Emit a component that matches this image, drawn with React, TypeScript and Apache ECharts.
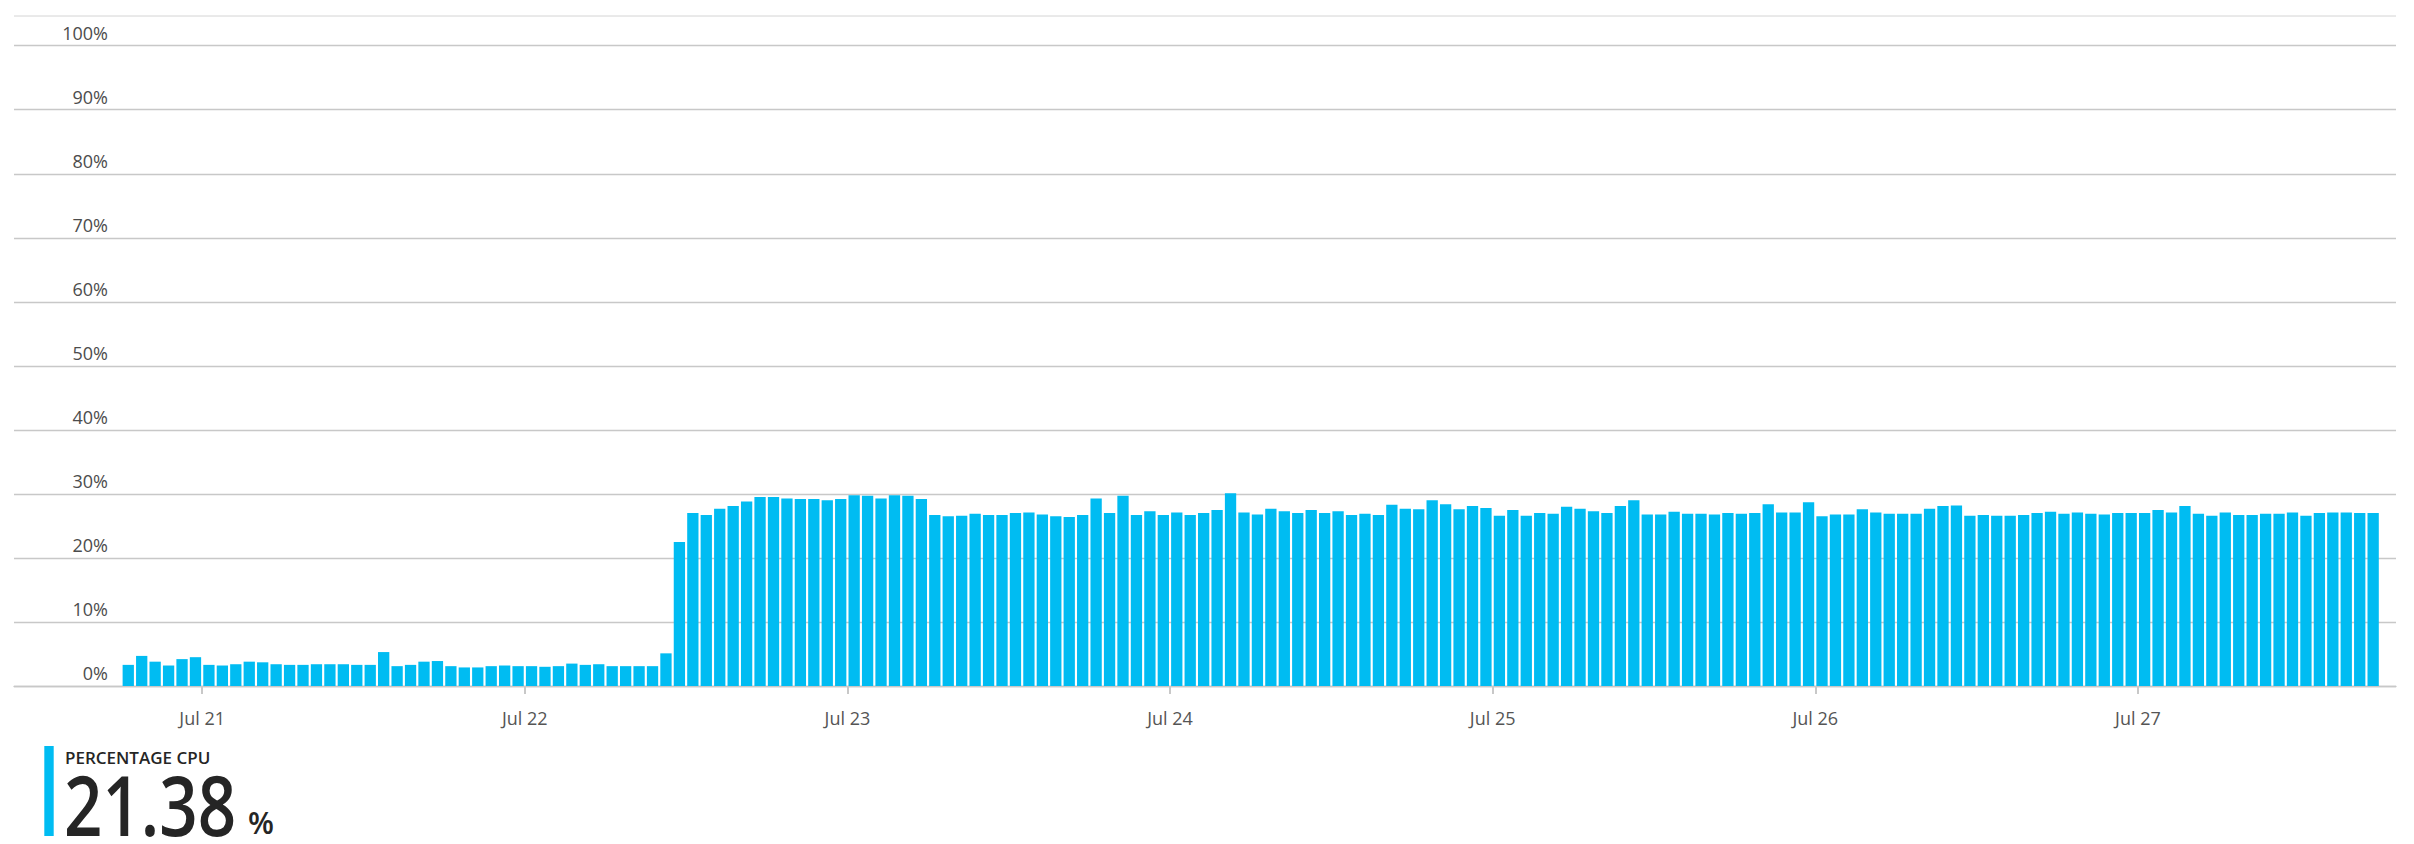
import { useEffect, useRef } from 'react'
import * as echarts from 'echarts'

// hourly CPU %, one array per calendar day (Jul 20 starts at 18:00)
const jul20 = [3.3, 4.7, 3.8, 3.2, 4.2, 4.5]
const jul21 = [3.3, 3.2, 3.4, 3.8, 3.7, 3.4, 3.3, 3.3, 3.4, 3.4, 3.4, 3.3, 3.3, 5.3, 3.1, 3.3, 3.8, 3.9, 3.1, 2.9, 2.9, 3.1, 3.2, 3.1]
const jul22 = [3.1, 3.0, 3.1, 3.5, 3.3, 3.4, 3.1, 3.1, 3.1, 3.1, 5.1, 22.5, 27.0, 26.7, 27.7, 28.1, 28.8, 29.5, 29.5, 29.3, 29.2, 29.2, 29.0, 29.2]
const jul23 = [29.8, 29.7, 29.3, 29.8, 29.7, 29.2, 26.7, 26.5, 26.6, 26.9, 26.7, 26.7, 27.0, 27.1, 26.8, 26.5, 26.4, 26.7, 29.3, 27.0, 29.7, 26.7, 27.3, 26.7]
const jul24 = [27.1, 26.7, 27.0, 27.5, 30.1, 27.1, 26.8, 27.7, 27.3, 27.0, 27.5, 27.0, 27.3, 26.7, 26.9, 26.7, 28.3, 27.7, 27.6, 29.0, 28.4, 27.6, 28.1, 27.8]
const jul25 = [26.6, 27.5, 26.6, 27.0, 26.9, 28.0, 27.7, 27.3, 27.0, 28.1, 29.0, 26.8, 26.8, 27.2, 26.9, 26.9, 26.8, 27.0, 26.9, 27.0, 28.4, 27.1, 27.1, 28.7]
const jul26 = [26.5, 26.8, 26.8, 27.6, 27.1, 26.9, 26.9, 26.9, 27.7, 28.1, 28.2, 26.6, 26.7, 26.6, 26.6, 26.7, 27.0, 27.2, 26.9, 27.1, 26.9, 26.8, 27.0, 27.0]
const jul27 = [27.0, 27.5, 27.1, 28.1, 26.9, 26.6, 27.1, 26.7, 26.7, 26.9, 26.9, 27.1, 26.6, 27.0, 27.1, 27.1, 27.0, 27.0]

const dayLabels = ['Jul 21', 'Jul 22', 'Jul 23', 'Jul 24', 'Jul 25', 'Jul 26', 'Jul 27']
const yTicks = [0, 10, 20, 30, 40, 50, 60, 70, 80, 90, 100]

const metricName = 'PERCENTAGE CPU'
const metricValue = '21.38'
const metricUnit = '%'

// hours counted from Jul 20 00:00
const firstHour = 18
const axisMinHour = 10
const axisMaxHour = 187.2

const FONT = "'Open Sans', sans-serif"
const BLUE = '#00bcf2'
const GRID_GREY = '#c8c8c8'

export default function App() {
  const chartRef = useRef<HTMLDivElement | null>(null)

  useEffect(() => {
    if (!chartRef.current) {
      return undefined
    }

    const chart = echarts.init(chartRef.current, undefined, { renderer: 'svg' })

    const hourly = [...jul20, ...jul21, ...jul22, ...jul23, ...jul24, ...jul25, ...jul26, ...jul27]
    const barData = hourly.map((value, index) => [firstHour + index + 0.5, value])
    const dayTicks = dayLabels.map((_, index) => (index + 1) * 24)

    chart.setOption({
      animation: false,
      backgroundColor: '#ffffff',
      textStyle: { fontFamily: FONT },
      grid: { left: 14, right: 18, top: 45.7, bottom: 158, containLabel: false },
      xAxis: {
        type: 'value',
        min: axisMinHour,
        max: axisMaxHour,
        axisLine: { show: true, lineStyle: { color: GRID_GREY, width: 1.3 } },
        axisTick: {
          show: true,
          customValues: dayTicks,
          length: 8,
          lineStyle: { color: GRID_GREY, width: 2 },
        },
        axisLabel: {
          customValues: dayTicks,
          margin: 23,
          fontSize: 18,
          fontFamily: FONT,
          color: '#555555',
          formatter: (value: number) => dayLabels[Math.round(value / 24) - 1] ?? '',
        },
        splitLine: { show: false },
      },
      yAxis: {
        type: 'value',
        min: 0,
        max: 100,
        interval: 10,
        axisLine: { show: false },
        axisTick: { show: false },
        axisLabel: {
          customValues: yTicks,
          margin: -94,
          fontSize: 18,
          fontFamily: FONT,
          color: '#4c4c4c',
          align: 'right',
          verticalAlign: 'bottom',
          padding: [0, 0, 4, 0],
          formatter: (value: number) => `${value}%`,
        },
        splitLine: { show: true, lineStyle: { color: GRID_GREY, width: 1.3 } },
      },
      series: [
        {
          type: 'bar',
          data: barData,
          barWidth: 11.3,
          itemStyle: { color: BLUE },
        },
      ],
      graphic: [
        {
          type: 'line',
          shape: { x1: 14, y1: 16, x2: 2396, y2: 16 },
          style: { stroke: '#d4d4d4', lineWidth: 1 },
          silent: true,
        },
        {
          type: 'rect',
          shape: { x: 44.3, y: 746, width: 9.4, height: 90 },
          style: { fill: BLUE },
        },
        {
          type: 'text',
          x: 65,
          y: 757,
          style: {
            text: metricName,
            fontSize: 17,
            lineHeight: 18,
            fontWeight: 600,
            fontFamily: FONT,
            fill: '#252525',
            align: 'left',
            verticalAlign: 'middle',
          },
        },
        {
          type: 'text',
          x: 64,
          y: 803,
          scaleX: 0.8,
          style: {
            text: metricValue,
            fontSize: 84,
            lineHeight: 62,
            fontWeight: 600,
            fontFamily: FONT,
            fill: '#252525',
            align: 'left',
            verticalAlign: 'middle',
          },
        },
        {
          type: 'text',
          x: 248,
          y: 822,
          style: {
            text: metricUnit,
            fontSize: 30,
            lineHeight: 24,
            fontWeight: 600,
            fontFamily: FONT,
            fill: '#252525',
            align: 'left',
            verticalAlign: 'middle',
          },
        },
      ],
    })

    return () => {
      chart.dispose()
    }
  }, [])

  return (
    <div
      ref={chartRef}
      style={{ position: 'fixed', left: 0, top: 0, width: 2414, height: 844, background: '#ffffff' }}
    />
  )
}
